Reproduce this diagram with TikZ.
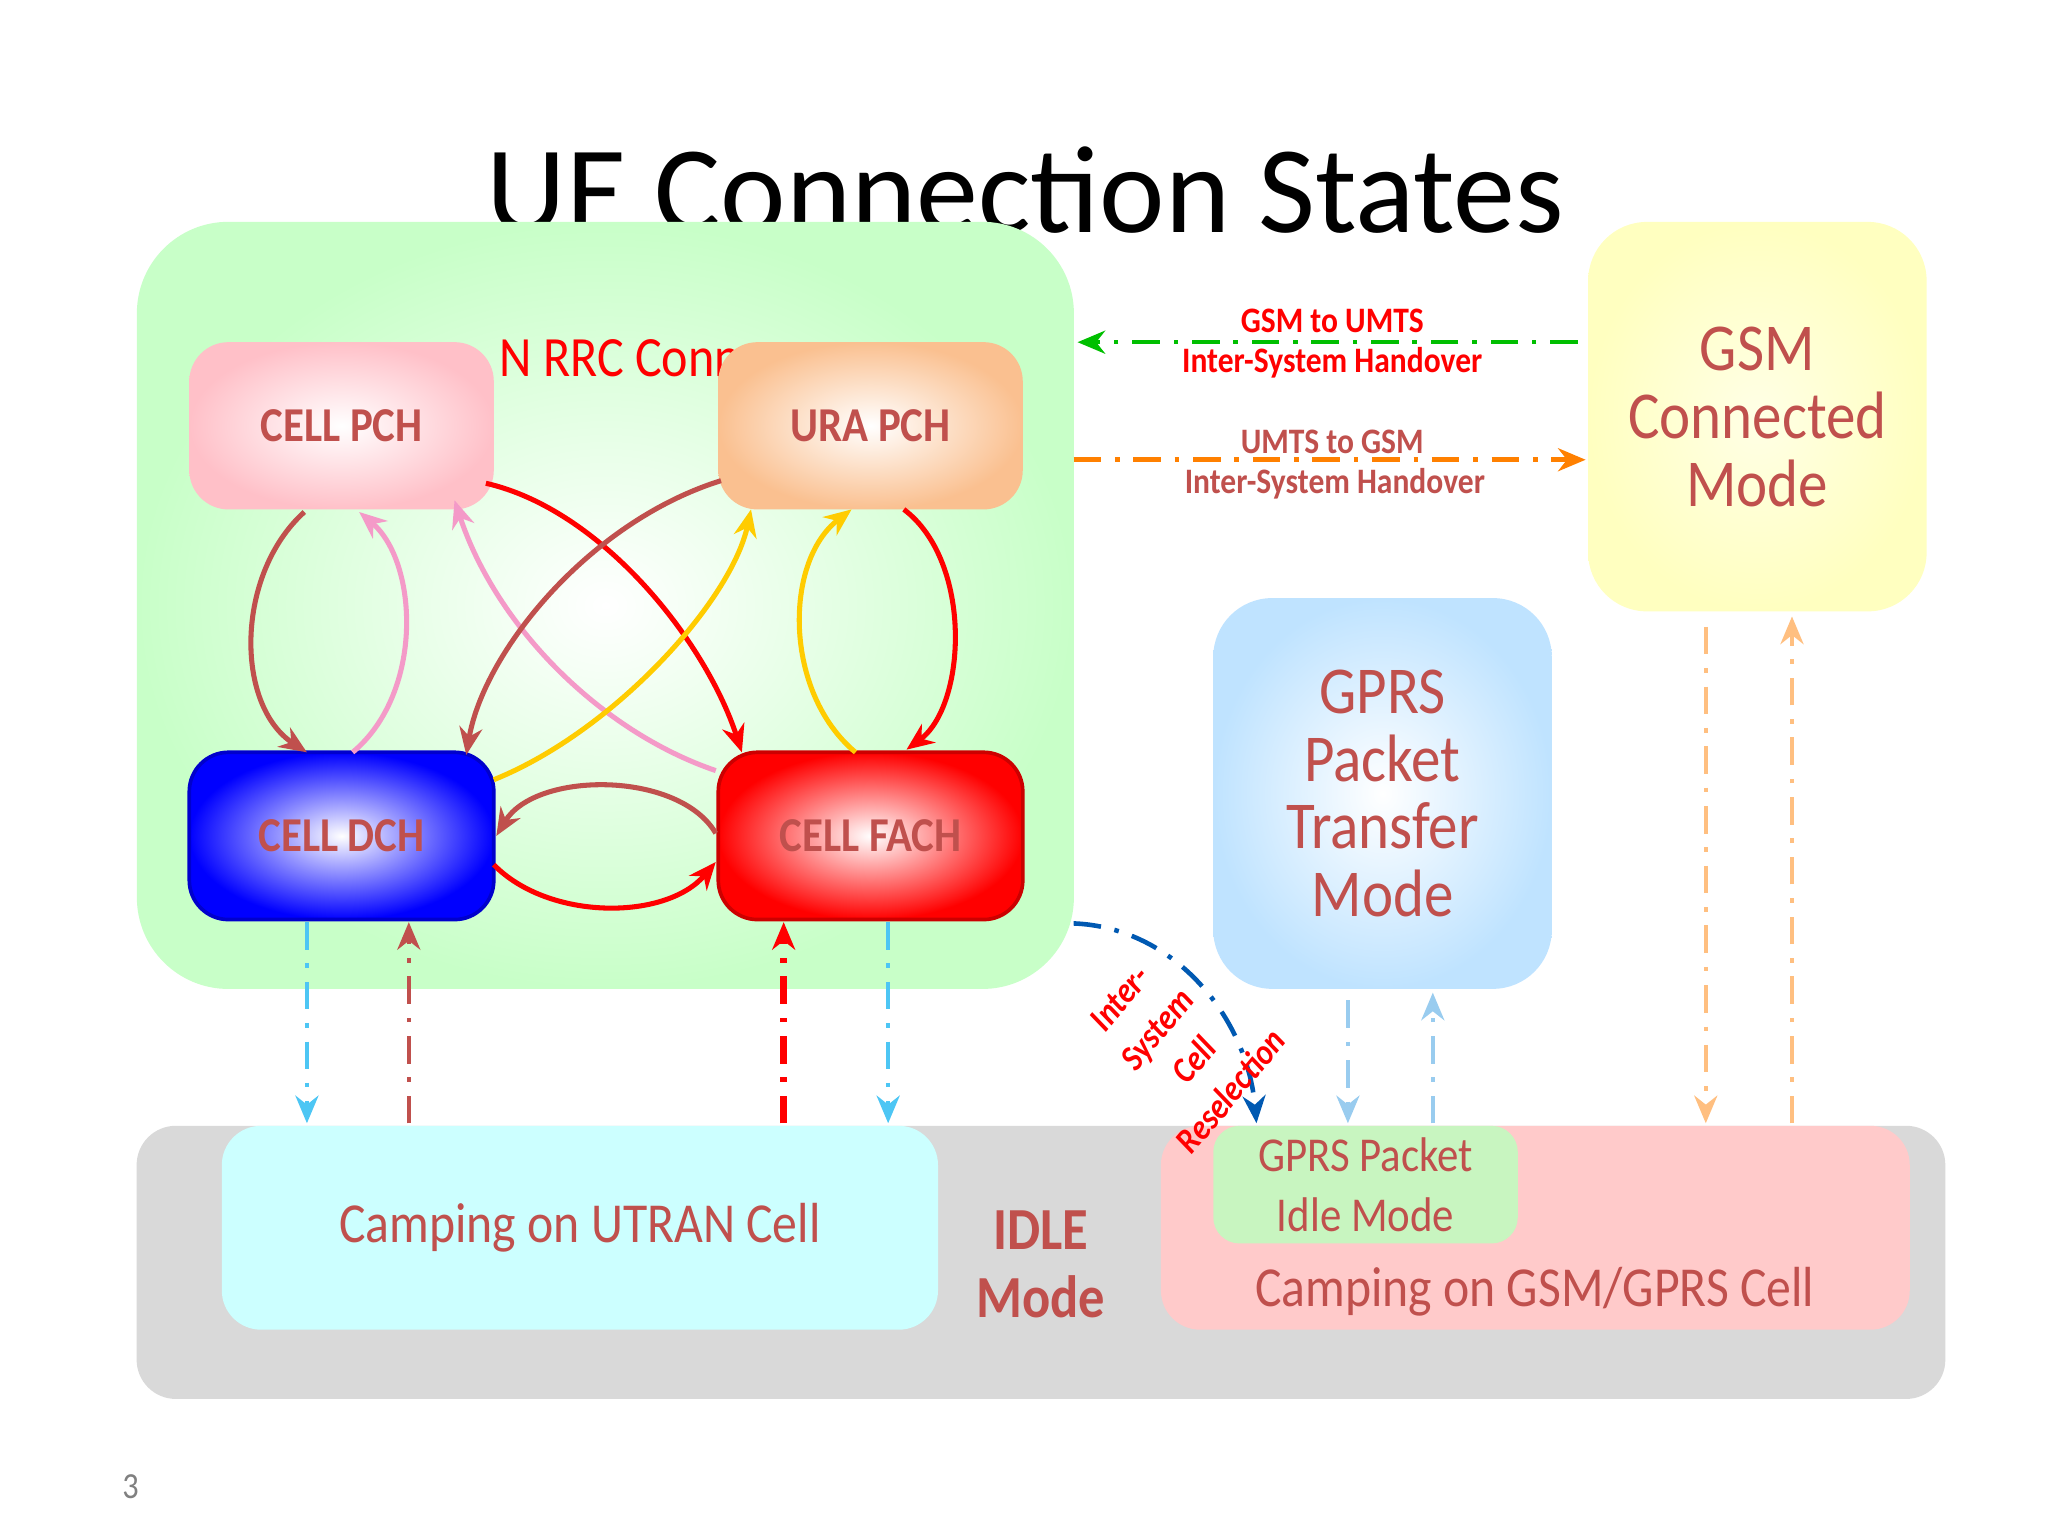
\documentclass[tikz,border=0pt]{standalone}
\usepackage{fontspec}
\setmainfont{Carlito}[FakeStretch=0.88]
\newfontfamily\titlefont{Carlito}
\usetikzlibrary{arrows.meta}
\definecolor{tred}{HTML}{C0504D}
\definecolor{gbg}{HTML}{C8FFC8}
\definecolor{pcell}{HTML}{FFC0C8}
\definecolor{ocell}{HTML}{FAC090}
\definecolor{ycell}{HTML}{FFFFC0}
\definecolor{bcell}{HTML}{BFE3FF}
\definecolor{graybg}{HTML}{D9D9D9}
\definecolor{cyanbg}{HTML}{CCFFFF}
\definecolor{pinkbg}{HTML}{FFCACA}
\definecolor{idleg}{HTML}{C8F5C0}
\definecolor{dbrown}{HTML}{C0504D}
\definecolor{lpink}{HTML}{F49AC8}
\definecolor{gold}{HTML}{FFCC00}
\begin{document}
\begin{tikzpicture}[x=0.01cm,y=-0.01cm,
  box/.style={rounded corners=0.3cm,align=center,inner sep=0pt,text=tred},
  st/.style={box,minimum width=2.33cm,minimum height=1.28cm,font=\fontsize{10.6}{12}\selectfont\bfseries},
  big/.style={font=\fontsize{14.6}{14.8}\selectfont},
  tr/.style={-{Stealth[length=6pt,width=5pt]},line width=1.1pt},
  dd/.style={dash pattern=on 6pt off 3pt on 1pt off 3pt,line width=1pt,-{Stealth[length=6pt,width=5pt]}},
  lbl/.style={font=\fontsize{7.8}{9}\selectfont\bfseries}]
\useasboundingbox (0,0) rectangle (1568,1176);
\fill[white] (0,0) rectangle (1568,1176);
\node[anchor=base,font=\titlefont\fontsize{27}{30}\selectfont] (title) at (785,178) {UE Connection States};
% green area
\node[box,rounded corners=0.7cm,minimum width=7.17cm,minimum height=5.87cm,inner color=white,outer color=gbg] (rrc) at (463.5,463.5) {};
\node[anchor=base west,text=red,font=\fontsize{12.4}{14}\selectfont] (rrct) at (370,288) {N RRC Conn};
% states
\node[st,inner color=white,outer color=pcell] (pch) at (261.5,326) {CELL PCH};
\node[st,inner color=white,outer color=ocell] (ura) at (666.5,326) {URA PCH};
\node[st,inner color=white,outer color=blue,draw=blue!80!black,line width=0.8pt] (dch) at (261.5,640) {CELL DCH};
\node[st,inner color=white,outer color=red,draw=red!80!black,line width=0.8pt] (fach) at (666.5,640) {CELL FACH};
% GSM / GPRS
\node[box,big,rounded corners=0.45cm,minimum width=2.59cm,minimum height=2.98cm,inner color=white!60!ycell,outer color=ycell] (gsm) at (1345.5,319) {GSM\\Connected\\Mode};
\node[box,big,rounded corners=0.45cm,minimum width=2.59cm,minimum height=2.99cm,inner color=white,outer color=bcell] (gprs) at (1058.5,607.5) {GPRS\\Packet\\Transfer\\Mode};
% idle
\node[box,fill=graybg,minimum width=13.84cm,minimum height=2.09cm] (idle) at (797,966.5) {};
\node[box,fill=cyanbg,minimum width=5.48cm,minimum height=1.56cm,font=\fontsize{12.3}{14}\selectfont] (utran) at (444,940) {Camping on UTRAN Cell};
\node[box,fill=pinkbg,minimum width=5.73cm,minimum height=1.56cm] (gsmc) at (1175.5,940) {};
\node[anchor=base,text=tred,font=\fontsize{12.3}{14}\selectfont] (gsmct) at (1175,1000) {Camping on GSM/GPRS Cell};
\node[box,fill=idleg,rounded corners=0.2cm,minimum width=2.33cm,minimum height=0.9cm,font=\fontsize{10.6}{13}\selectfont] (pidle) at (1045.5,907) {GPRS Packet\\Idle Mode};
\node[text=tred,align=center,font=\fontsize{13}{15}\selectfont\bfseries] (idlet) at (797,968) {IDLE\\Mode};
\node[text=gray,font=\fontsize{8}{9}\selectfont] (pg) at (100,1138) {3};
% transitions
\draw[tr,dbrown] (233,392) .. controls (180,440) and (180,540) .. (235,576);
\draw[tr,lpink] (270,576) .. controls (325,530) and (320,430) .. (275,392);
\draw[tr,red] (372,370) .. controls (460,390) and (540,490) .. (568,576);
\draw[tr,lpink] (548,590) .. controls (460,560) and (380,480) .. (348,383);
\draw[tr,dbrown] (552,368) .. controls (450,400) and (370,500) .. (357,578);
\draw[tr,gold] (378,597) .. controls (470,560) and (560,460) .. (575,390);
\draw[tr,gold] (655,576) .. controls (600,530) and (600,430) .. (652,390);
\draw[tr,red] (692,390) .. controls (745,430) and (740,540) .. (694,574);
\draw[tr,dbrown] (548,638) .. controls (520,590) and (410,590) .. (380,640);
\draw[tr,red] (378,662) .. controls (420,705) and (510,705) .. (548,660);
% handovers
\coordinate (g1) at (1208,262); \coordinate (g2) at (825,262);
\draw[dd,green!75!black] (g1) -- (g2);
\node[lbl,text=red] (l1) at (1020,246) {GSM to UMTS};
\node[lbl,text=red] (l2) at (1020,278) {Inter-System Handover};
\coordinate (o1) at (822,352); \coordinate (o2) at (1214,352);
\draw[dd,orange] (o1) -- (o2);
\node[lbl,text=tred] (l3) at (1020,338) {UMTS to GSM};
\node[lbl,text=tred] (l4) at (1022,370) {Inter-System Handover};
% vertical
\draw[dd,cyan!70] (235,706) -- (235,860);
\draw[dd,dbrown] (313,860) -- (313,706);
\draw[dd,red,line width=1.5pt] (600,860) -- (600,706);
\draw[dd,cyan!70] (680,706) -- (680,860);
\draw[dd,cyan!20!bcell] (1032,766) -- (1032,860);
\draw[dd,cyan!20!bcell] (1097,860) -- (1097,760);
\draw[dd,orange!50] (1306,480) -- (1306,860);
\draw[dd,orange!50] (1372,860) -- (1372,472);
\draw[dd,blue!50!cyan!70!black] (822,707) .. controls (900,710) and (955,780) .. (962,860);
\node[rotate=50,text=red,align=center,font=\fontsize{7.8}{10.5}\selectfont\bfseries\itshape] (resel) at (900,800) {Inter-\\System\\Cell\\Reselection};
\end{tikzpicture}
\end{document}
